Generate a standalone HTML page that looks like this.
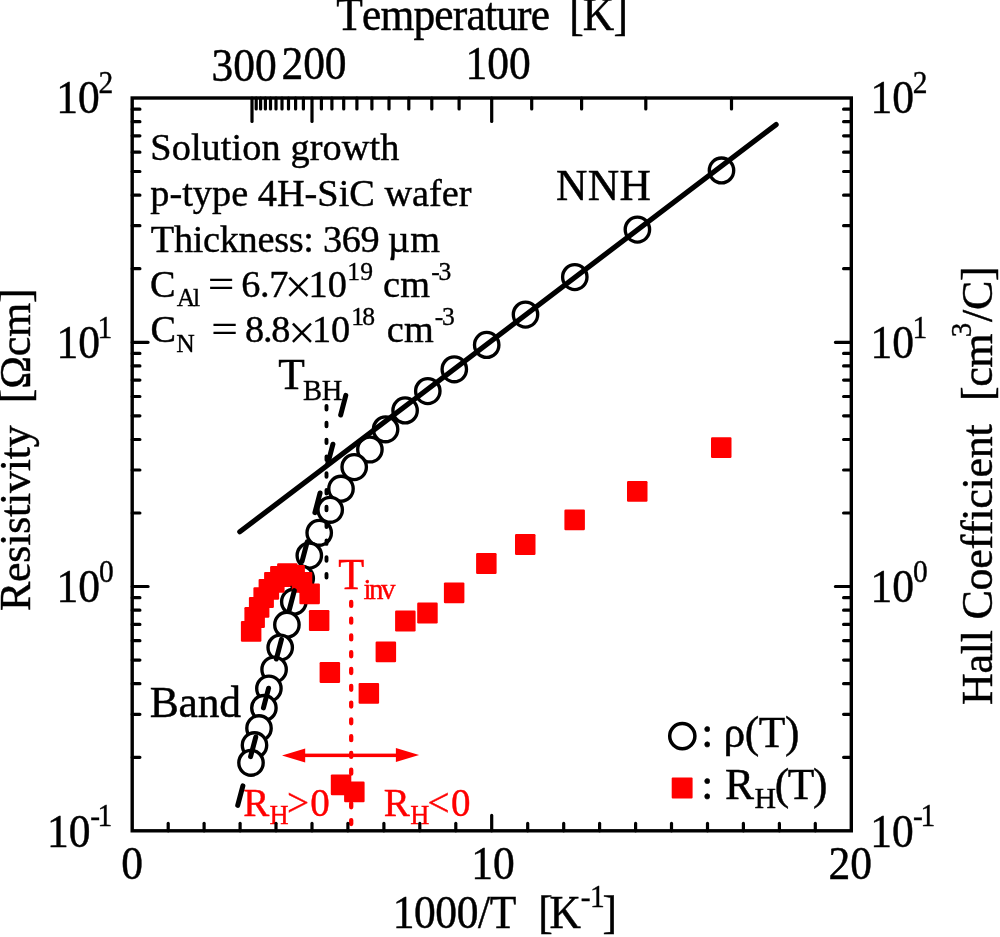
<!DOCTYPE html>
<html lang="en"><head><meta charset="utf-8"><title>Resistivity and Hall coefficient</title>
<style>html,body{margin:0;padding:0;background:#fff}body{width:1000px;height:937px;overflow:hidden}</style></head>
<body>
<svg width="1000" height="937" viewBox="0 0 1000 937" style="display:block;font-kerning:none;font-variant-ligatures:none" font-family='"Liberation Serif", "DejaVu Serif", serif' fill="#000">
<rect x="0" y="0" width="1000" height="937" fill="#fff"/>
<g fill="#fff" stroke="#000" stroke-width="3.35">
<ellipse cx="721.5" cy="170.4" rx="12.2" ry="12.45"/>
<ellipse cx="637.4" cy="229.6" rx="12.2" ry="12.45"/>
<ellipse cx="574.8" cy="277.1" rx="12.2" ry="12.45"/>
<ellipse cx="525.5" cy="314.6" rx="12.2" ry="12.45"/>
<ellipse cx="486.7" cy="344.9" rx="12.2" ry="12.45"/>
<ellipse cx="454.3" cy="369.3" rx="12.2" ry="12.45"/>
<ellipse cx="427.8" cy="391.1" rx="12.2" ry="12.45"/>
<ellipse cx="405.1" cy="410.4" rx="12.2" ry="12.45"/>
<ellipse cx="385.6" cy="429.3" rx="12.2" ry="12.45"/>
<ellipse cx="369.9" cy="449.5" rx="12.2" ry="12.45"/>
<ellipse cx="354.2" cy="467.1" rx="12.2" ry="12.45"/>
<ellipse cx="341.0" cy="488.7" rx="12.2" ry="12.45"/>
<ellipse cx="330.2" cy="509.8" rx="12.2" ry="12.45"/>
<ellipse cx="319.2" cy="532.8" rx="12.2" ry="12.45"/>
<ellipse cx="309.3" cy="555.6" rx="12.2" ry="12.45"/>
<ellipse cx="301.2" cy="578.5" rx="12.2" ry="12.45"/>
<ellipse cx="293.8" cy="601.7" rx="12.2" ry="12.45"/>
<ellipse cx="286.9" cy="624.7" rx="12.2" ry="12.45"/>
<ellipse cx="280.2" cy="647.6" rx="12.2" ry="12.45"/>
<ellipse cx="274.1" cy="669.5" rx="12.2" ry="12.45"/>
<ellipse cx="268.9" cy="688.5" rx="12.2" ry="12.45"/>
<ellipse cx="263.9" cy="707.9" rx="12.2" ry="12.45"/>
<ellipse cx="259.0" cy="728.2" rx="12.2" ry="12.45"/>
<ellipse cx="254.5" cy="745.2" rx="12.2" ry="12.45"/>
<ellipse cx="251.0" cy="762.8" rx="12.2" ry="12.45"/>
</g>
<g fill="#ff0000">
<rect x="711.0" y="437.2" width="20.5" height="20.8" rx="1.2"/>
<rect x="627.0" y="481.0" width="20.5" height="20.8" rx="1.2"/>
<rect x="564.4" y="509.5" width="20.5" height="20.8" rx="1.2"/>
<rect x="515.0" y="534.1" width="20.5" height="20.8" rx="1.2"/>
<rect x="476.1" y="553.1" width="20.5" height="20.8" rx="1.2"/>
<rect x="443.9" y="582.4" width="20.5" height="20.8" rx="1.2"/>
<rect x="417.2" y="602.6" width="20.5" height="20.8" rx="1.2"/>
<rect x="395.1" y="610.6" width="20.5" height="20.8" rx="1.2"/>
<rect x="375.6" y="641.5" width="20.5" height="20.8" rx="1.2"/>
<rect x="358.6" y="682.9" width="20.5" height="20.8" rx="1.2"/>
<rect x="344.1" y="781.5" width="20.5" height="20.8" rx="1.2"/>
<rect x="330.8" y="774.4" width="20.5" height="20.8" rx="1.2"/>
<rect x="319.6" y="662.1" width="20.5" height="20.8" rx="1.2"/>
<rect x="308.9" y="610.1" width="20.5" height="20.8" rx="1.2"/>
<rect x="299.4" y="583.4" width="20.5" height="20.8" rx="1.2"/>
<rect x="291.8" y="571.9" width="20.5" height="20.8" rx="1.2"/>
<rect x="284.4" y="564.9" width="20.5" height="20.8" rx="1.2"/>
<rect x="277.1" y="563.2" width="20.5" height="20.8" rx="1.2"/>
<rect x="270.1" y="566.1" width="20.5" height="20.8" rx="1.2"/>
<rect x="264.1" y="571.9" width="20.5" height="20.8" rx="1.2"/>
<rect x="258.6" y="578.9" width="20.5" height="20.8" rx="1.2"/>
<rect x="253.4" y="587.2" width="20.5" height="20.8" rx="1.2"/>
<rect x="248.9" y="596.9" width="20.5" height="20.8" rx="1.2"/>
<rect x="244.4" y="607.1" width="20.5" height="20.8" rx="1.2"/>
<rect x="240.9" y="620.9" width="20.5" height="20.8" rx="1.2"/>
</g>
<line x1="351.2" y1="601.9" x2="351.2" y2="829" stroke="#ff0000" stroke-width="4.3" stroke-linecap="round" stroke-dasharray="4.0 12.78"/>
<g fill="#ff0000" stroke="none">
<rect x="300" y="753.6" width="101" height="3.5"/>
<polygon points="282,755.5 305.2,748.5 305.2,762.5"/>
<polygon points="419.1,755.1 395.9,748.1 395.9,762.1"/>
</g>
<text transform="translate(243.18 815.60)" font-size="39.0" fill="#ff0000" stroke="#ff0000" stroke-width="0.43">R</text>
<text transform="translate(269.44 824.40) scale(1.000 1.0)" font-size="26.5" fill="#ff0000" stroke="#ff0000" stroke-width="0.35">H</text>
<text transform="translate(287.12 815.60)" font-size="39.0" fill="#ff0000" stroke="#ff0000" stroke-width="0.43">&gt;</text>
<text transform="translate(310.31 815.60)" font-size="39.0" fill="#ff0000" stroke="#ff0000" stroke-width="0.43">0</text>
<text transform="translate(383.78 815.60)" font-size="39.0" fill="#ff0000" stroke="#ff0000" stroke-width="0.43">R</text>
<text transform="translate(410.24 824.40)" font-size="26.5" fill="#ff0000" stroke="#ff0000" stroke-width="0.35">H</text>
<text transform="translate(427.46 815.60)" font-size="39.0" fill="#ff0000" stroke="#ff0000" stroke-width="0.43">&lt;</text>
<text transform="translate(451.11 815.60)" font-size="39.0" fill="#ff0000" stroke="#ff0000" stroke-width="0.43">0</text>
<text transform="translate(338.33 589.00) scale(1.000 1.04)" font-size="42.5" fill="#ff0000" stroke="#ff0000" stroke-width="0.44">T</text>
<text transform="translate(363.39 599.00) scale(1.000 1.03)" font-size="29" fill="#ff0000" stroke="#ff0000" stroke-width="0.37" letter-spacing="-2.424">inv</text>
<line x1="239.8" y1="531.8" x2="776.1" y2="124.6" stroke="#000" stroke-width="5.2" stroke-linecap="round"/>
<line x1="345.8" y1="395.4" x2="237.7" y2="805.5" stroke="#000" stroke-width="5" stroke-linecap="round" stroke-dasharray="20.3 30.17"/>
<line x1="326.5" y1="406.0" x2="326.5" y2="578.5" stroke="#000" stroke-width="3.9" stroke-linecap="round" stroke-dasharray="3.5 13.3"/>
<g stroke="#000" stroke-width="3.2" stroke-linecap="round" fill="none">
<path d="M132.2 757.3h7.7M851.3 757.3h-7.7"/>
<path d="M132.2 714.3h7.7M851.3 714.3h-7.7"/>
<path d="M132.2 683.7h7.7M851.3 683.7h-7.7"/>
<path d="M132.2 660.1h7.7M851.3 660.1h-7.7"/>
<path d="M132.2 640.7h7.7M851.3 640.7h-7.7"/>
<path d="M132.2 624.4h7.7M851.3 624.4h-7.7"/>
<path d="M132.2 610.2h7.7M851.3 610.2h-7.7"/>
<path d="M132.2 597.7h7.7M851.3 597.7h-7.7"/>
<path d="M132.2 586.5h15.9M851.3 586.5h-15.9"/>
<path d="M132.2 513.0h7.7M851.3 513.0h-7.7"/>
<path d="M132.2 470.0h7.7M851.3 470.0h-7.7"/>
<path d="M132.2 439.5h7.7M851.3 439.5h-7.7"/>
<path d="M132.2 415.8h7.7M851.3 415.8h-7.7"/>
<path d="M132.2 396.5h7.7M851.3 396.5h-7.7"/>
<path d="M132.2 380.1h7.7M851.3 380.1h-7.7"/>
<path d="M132.2 365.9h7.7M851.3 365.9h-7.7"/>
<path d="M132.2 353.4h7.7M851.3 353.4h-7.7"/>
<path d="M132.2 342.3h15.9M851.3 342.3h-15.9"/>
<path d="M132.2 268.7h7.7M851.3 268.7h-7.7"/>
<path d="M132.2 225.7h7.7M851.3 225.7h-7.7"/>
<path d="M132.2 195.2h7.7M851.3 195.2h-7.7"/>
<path d="M132.2 171.5h7.7M851.3 171.5h-7.7"/>
<path d="M132.2 152.2h7.7M851.3 152.2h-7.7"/>
<path d="M132.2 135.8h7.7M851.3 135.8h-7.7"/>
<path d="M132.2 121.7h7.7M851.3 121.7h-7.7"/>
<path d="M132.2 109.2h7.7M851.3 109.2h-7.7"/>
<path d="M168.2 830.8v-7.4"/>
<path d="M204.1 830.8v-7.4"/>
<path d="M240.1 830.8v-7.4"/>
<path d="M276.0 830.8v-7.4"/>
<path d="M312.0 830.8v-7.4"/>
<path d="M347.9 830.8v-7.4"/>
<path d="M383.9 830.8v-7.4"/>
<path d="M419.8 830.8v-7.4"/>
<path d="M455.8 830.8v-7.4"/>
<path d="M491.7 830.8v-15.4"/>
<path d="M527.7 830.8v-7.4"/>
<path d="M563.7 830.8v-7.4"/>
<path d="M599.6 830.8v-7.4"/>
<path d="M635.6 830.8v-7.4"/>
<path d="M671.5 830.8v-7.4"/>
<path d="M707.5 830.8v-7.4"/>
<path d="M743.4 830.8v-7.4"/>
<path d="M779.4 830.8v-7.4"/>
<path d="M815.3 830.8v-7.4"/>
<path d="M252.0 98.0v23.4"/>
<path d="M256.2 98.0v10.9"/>
<path d="M260.6 98.0v10.9"/>
<path d="M265.4 98.0v10.9"/>
<path d="M270.5 98.0v10.9"/>
<path d="M276.0 98.0v10.9"/>
<path d="M282.0 98.0v10.9"/>
<path d="M288.5 98.0v10.9"/>
<path d="M295.6 98.0v10.9"/>
<path d="M303.4 98.0v10.9"/>
<path d="M312.0 98.0v23.4"/>
<path d="M321.4 98.0v10.9"/>
<path d="M331.9 98.0v10.9"/>
<path d="M343.7 98.0v10.9"/>
<path d="M356.9 98.0v10.9"/>
<path d="M371.9 98.0v10.9"/>
<path d="M389.0 98.0v10.9"/>
<path d="M408.8 98.0v10.9"/>
<path d="M431.8 98.0v10.9"/>
<path d="M459.1 98.0v10.9"/>
<path d="M491.7 98.0v23.4"/>
<path d="M531.7 98.0v10.9"/>
<path d="M581.6 98.0v10.9"/>
<path d="M645.8 98.0v10.9"/>
<path d="M731.5 98.0v10.9"/>
</g>
<rect x="132.2" y="98.0" width="719.1" height="732.8" fill="none" stroke="#000" stroke-width="3.4"/>
<text transform="translate(336.21 29.80) scale(1.000 1.07)" font-size="43.5" stroke="#000" stroke-width="0.45" letter-spacing="-0.834" xml:space="preserve">Temperature  [K]</text>
<text transform="translate(211.42 81.40) scale(1.000 1.07)" font-size="43.5" stroke="#000" stroke-width="0.45">300</text>
<text transform="translate(281.39 78.60) scale(1.000 1.07)" font-size="43.5" stroke="#000" stroke-width="0.45">200</text>
<text transform="translate(465.48 78.60) scale(1.000 1.07)" font-size="43.5" stroke="#000" stroke-width="0.45">100</text>
<text transform="translate(56.36 113.20) scale(1.000 1.07)" font-size="43.5" stroke="#000" stroke-width="0.45">10</text>
<text transform="translate(98.40 93.00) scale(1.000 1.07)" font-size="29.5" stroke="#000" stroke-width="0.37">2</text>
<text transform="translate(56.56 357.70) scale(1.000 1.07)" font-size="43.5" stroke="#000" stroke-width="0.45">10</text>
<text transform="translate(97.62 337.50) scale(1.000 1.07)" font-size="29.5" stroke="#000" stroke-width="0.37">1</text>
<text transform="translate(56.56 602.40) scale(1.000 1.07)" font-size="43.5" stroke="#000" stroke-width="0.45">10</text>
<text transform="translate(99.08 582.00) scale(1.000 1.07)" font-size="29.5" stroke="#000" stroke-width="0.37">0</text>
<text transform="translate(47.06 847.10) scale(1.000 1.07)" font-size="43.5" stroke="#000" stroke-width="0.45">10</text>
<text transform="translate(90.21 826.40) scale(1.000 1.07)" font-size="29.5" stroke="#000" stroke-width="0.37">-</text>
<text transform="translate(97.62 826.40) scale(1.000 1.07)" font-size="29.5" stroke="#000" stroke-width="0.37">1</text>
<text transform="translate(870.46 113.20) scale(1.000 1.07)" font-size="43.5" stroke="#000" stroke-width="0.45">10</text>
<text transform="translate(912.70 93.00) scale(1.000 1.07)" font-size="29.5" stroke="#000" stroke-width="0.37">2</text>
<text transform="translate(870.46 357.70) scale(1.000 1.07)" font-size="43.5" stroke="#000" stroke-width="0.45">10</text>
<text transform="translate(912.42 337.50) scale(1.000 1.07)" font-size="29.5" stroke="#000" stroke-width="0.37">1</text>
<text transform="translate(870.46 602.40) scale(1.000 1.07)" font-size="43.5" stroke="#000" stroke-width="0.45">10</text>
<text transform="translate(913.08 582.00) scale(1.000 1.07)" font-size="29.5" stroke="#000" stroke-width="0.37">0</text>
<text transform="translate(870.36 847.00) scale(1.000 1.07)" font-size="43.5" stroke="#000" stroke-width="0.45">10</text>
<text transform="translate(913.01 826.40) scale(1.000 1.07)" font-size="29.5" stroke="#000" stroke-width="0.37">-</text>
<text transform="translate(920.42 826.40) scale(1.000 1.07)" font-size="29.5" stroke="#000" stroke-width="0.37">1</text>
<text transform="translate(121.24 879.20) scale(1.000 1.07)" font-size="43.5" stroke="#000" stroke-width="0.45">0</text>
<text transform="translate(471.18 879.20) scale(1.000 1.07)" font-size="43.5" stroke="#000" stroke-width="0.45">10</text>
<text transform="translate(828.49 879.20) scale(1.000 1.07)" font-size="43.5" stroke="#000" stroke-width="0.45">20</text>
<text transform="translate(392.68 928.10) scale(1.000 1.07)" font-size="43.5" stroke="#000" stroke-width="0.45" letter-spacing="-0.402">1000/T</text>
<text transform="translate(538.27 928.10) scale(1.000 1.07)" font-size="43.5" stroke="#000" stroke-width="0.45" letter-spacing="-3.226">[K</text>
<text transform="translate(580.71 907.00) scale(1.000 1.07)" font-size="29.5" stroke="#000" stroke-width="0.37">-</text>
<text transform="translate(590.01 907.00) scale(1.000 1.07)" font-size="29.5" stroke="#000" stroke-width="0.37">1</text>
<text transform="translate(602.43 928.10) scale(1.000 1.07)" font-size="43.5" stroke="#000" stroke-width="0.45">]</text>
<text transform="translate(30.10 611.07) rotate(-90)" font-size="44.0" stroke="#000" stroke-width="0.45" letter-spacing="-0.250">Resistivity</text>
<text transform="translate(29.80 403.17) rotate(-90)" font-size="44.0" stroke="#000" stroke-width="0.45" letter-spacing="-0.250">[Ωcm]</text>
<text transform="translate(992.30 705.07) rotate(-90)" font-size="44.0" stroke="#000" stroke-width="0.45" letter-spacing="-0.250">Hall Coefficient</text>
<text transform="translate(992.30 401.07) rotate(-90)" font-size="44.0" stroke="#000" stroke-width="0.45" letter-spacing="-0.400">[cm</text>
<text transform="translate(971.30 337.29) rotate(-90)" font-size="29" stroke="#000" stroke-width="0.37">3</text>
<text transform="translate(992.30 322.00) rotate(-90)" font-size="44.0" stroke="#000" stroke-width="0.45" letter-spacing="-0.250">/C]</text>
<text transform="translate(150.24 159.90)" font-size="38.3" stroke="#000" stroke-width="0.42" letter-spacing="0.097">Solution growth</text>
<text transform="translate(150.28 206.00)" font-size="38.3" stroke="#000" stroke-width="0.42" letter-spacing="0.008">p-type 4H-SiC wafer</text>
<text transform="translate(150.81 251.80)" font-size="38.3" stroke="#000" stroke-width="0.42" letter-spacing="-0.308">Thickness: 369</text>
<text transform="translate(387.77 251.80)" font-size="38.3" stroke="#000" stroke-width="0.42" letter-spacing="0.374">µm</text>
<text transform="translate(149.93 296.70)" font-size="38.3" stroke="#000" stroke-width="0.42">C</text>
<text transform="translate(176.85 305.90)" font-size="25.6" stroke="#000" stroke-width="0.35" letter-spacing="-2.437">Al</text>
<text transform="translate(208.09 296.70) scale(1.212 1.0)" font-size="38.3" stroke="#000" stroke-width="0.42">=</text>
<text transform="translate(241.25 296.70)" font-size="38.3" stroke="#000" stroke-width="0.42" letter-spacing="-0.413">6.7</text>
<text transform="translate(284.67 302.90)" font-size="48.4" stroke="#000" stroke-width="0.10">×</text>
<text transform="translate(308.56 296.70)" font-size="38.3" stroke="#000" stroke-width="0.42">10</text>
<text transform="translate(347.35 279.60)" font-size="25.6" stroke="#000" stroke-width="0.35">1</text>
<text transform="translate(360.15 279.60)" font-size="25.6" stroke="#000" stroke-width="0.35">9</text>
<text transform="translate(383.04 296.70)" font-size="38.3" stroke="#000" stroke-width="0.42" letter-spacing="0.267">cm</text>
<text transform="translate(431.25 280.00)" font-size="25.6" stroke="#000" stroke-width="0.35" letter-spacing="-1.375">-3</text>
<text transform="translate(150.43 342.30)" font-size="38.3" stroke="#000" stroke-width="0.42">C</text>
<text transform="translate(176.36 351.60)" font-size="25.6" stroke="#000" stroke-width="0.35">N</text>
<text transform="translate(211.59 342.30) scale(1.212 1.0)" font-size="38.3" stroke="#000" stroke-width="0.42">=</text>
<text transform="translate(245.04 342.30)" font-size="38.3" stroke="#000" stroke-width="0.42" letter-spacing="-1.229">8.8</text>
<text transform="translate(288.17 348.50)" font-size="48.4" stroke="#000" stroke-width="0.10">×</text>
<text transform="translate(311.96 342.30)" font-size="38.3" stroke="#000" stroke-width="0.42">10</text>
<text transform="translate(351.35 325.00)" font-size="25.6" stroke="#000" stroke-width="0.35">1</text>
<text transform="translate(362.37 325.00)" font-size="25.6" stroke="#000" stroke-width="0.35">8</text>
<text transform="translate(386.64 342.30)" font-size="38.3" stroke="#000" stroke-width="0.42" letter-spacing="0.267">cm</text>
<text transform="translate(434.85 325.20)" font-size="25.6" stroke="#000" stroke-width="0.35" letter-spacing="-1.375">-3</text>
<text transform="translate(556.05 199.60) scale(1.000 1.03)" font-size="43.5" stroke="#000" stroke-width="0.45" letter-spacing="0.292">NNH</text>
<text transform="translate(278.21 389.00) scale(1.000 1.03)" font-size="43.5" stroke="#000" stroke-width="0.45">T</text>
<text transform="translate(302.98 399.50) scale(1.000 1.03)" font-size="28.5" stroke="#000" stroke-width="0.36" letter-spacing="-0.235">BH</text>
<text transform="translate(149.75 716.80) scale(1.000 1.03)" font-size="43.5" stroke="#000" stroke-width="0.45" letter-spacing="-0.146">Band</text>
<circle cx="682.3" cy="736.1" r="12.6" fill="#fff" stroke="#000" stroke-width="3.5"/>
<rect x="671.7" y="777.5" width="20.9" height="20.9" rx="1" fill="#ff0000"/>
<text transform="translate(701.36 747.10) scale(1.000 1.03)" font-size="43.5" stroke="#000" stroke-width="0.45">:</text>
<text transform="translate(723.50 747.10) scale(1.000 1.03)" font-size="43.5" stroke="#000" stroke-width="0.45" letter-spacing="-0.445">ρ(T)</text>
<text transform="translate(701.36 798.80) scale(1.000 1.03)" font-size="43.5" stroke="#000" stroke-width="0.45">:</text>
<text transform="translate(725.05 798.80) scale(1.000 1.03)" font-size="43.5" stroke="#000" stroke-width="0.45">R</text>
<text transform="translate(754.44 808.30) scale(1.046 1.03)" font-size="28.5" stroke="#000" stroke-width="0.36">H</text>
<text transform="translate(774.69 798.80) scale(1.000 1.03)" font-size="43.5" stroke="#000" stroke-width="0.45" letter-spacing="-1.360">(T)</text>
</svg>
</body></html>
